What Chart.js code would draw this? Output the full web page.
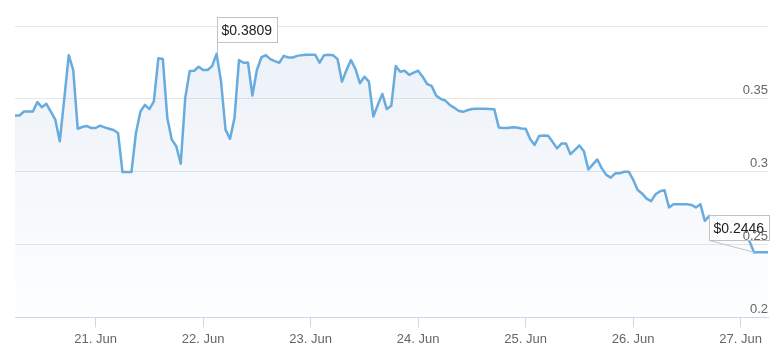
<!DOCTYPE html>
<html>
<head>
<meta charset="utf-8">
<script src="https://cdn.jsdelivr.net/npm/chart.js@4.4.1/dist/chart.umd.min.js"></script>
<style>
	html, body { margin: 0; padding: 0; background: #fff; }
	#wrap { width: 783px; height: 359px; position: relative; }
</style>
</head>
<body>
<div id="wrap"><canvas id="priceChart"></canvas></div>
<script>
// hourly prices, 20 Jun 06:00 -> 27 Jun 06:00
const prices = [
	0.3386, 0.3386, 0.3413, 0.3413, 0.3413, 0.3478, 0.3443, 0.3466, 0.3413, 0.3357,
	0.3209, 0.3500, 0.3800, 0.3698, 0.3295, 0.3307, 0.3314, 0.3300, 0.3300, 0.3316,
	0.3304, 0.3295, 0.3286, 0.3266, 0.2998, 0.2998, 0.2998, 0.3266, 0.3413, 0.3459,
	0.3430, 0.3482, 0.3778, 0.3773, 0.3368, 0.3220, 0.3175, 0.3055, 0.3505, 0.3691,
	0.3693, 0.3720, 0.3698, 0.3698, 0.3725, 0.3809, 0.3618, 0.3289, 0.3225, 0.3368,
	0.3766, 0.3748, 0.3750, 0.3523, 0.3698, 0.3784, 0.3800, 0.3773, 0.3759, 0.3748,
	0.3795, 0.3784, 0.3784, 0.3795, 0.3800, 0.3803, 0.3803, 0.3803, 0.3748, 0.3800,
	0.3803, 0.3800, 0.3773, 0.3618, 0.3698, 0.3766, 0.3705, 0.3607, 0.3652, 0.3618,
	0.3379, 0.3459, 0.3534, 0.3430, 0.3452, 0.3725, 0.3686, 0.3693, 0.3664, 0.3680,
	0.3693, 0.3652, 0.3602, 0.3589, 0.3523, 0.3500, 0.3489, 0.3460, 0.3440, 0.3418,
	0.3411, 0.3422, 0.3430, 0.3432, 0.3432, 0.3432, 0.3431, 0.3428, 0.3304, 0.3300,
	0.3300, 0.3305, 0.3303, 0.3296, 0.3295, 0.3225, 0.3184, 0.3245, 0.3248, 0.3247,
	0.3205, 0.3160, 0.3193, 0.3193, 0.3120, 0.3150, 0.3180, 0.3140, 0.3015, 0.3050,
	0.3084, 0.3023, 0.2978, 0.2959, 0.2989, 0.2989, 0.3000, 0.3000, 0.2945, 0.2875,
	0.2850, 0.2815, 0.2798, 0.2845, 0.2866, 0.2873, 0.2755, 0.2777, 0.2777, 0.2777,
	0.2777, 0.2772, 0.2755, 0.2777, 0.2663, 0.2697, 0.2690, 0.2680, 0.2670, 0.2665,
	0.2660, 0.2650, 0.2620, 0.2570, 0.2520, 0.2446, 0.2448, 0.2447, 0.2448
];
// hours counted from 20 Jun 00:00
const firstHour = 6;
const hours = prices.map((p, i) => firstHour + i);

const dayTicks = [24, 48, 72, 96, 120, 144, 168];
const dayLabels = ['21. Jun', '22. Jun', '23. Jun', '24. Jun', '25. Jun', '26. Jun', '27. Jun'];
const yTicks = [0.2, 0.25, 0.3, 0.35, 0.4];
const yLabels = ['0.2', '0.25', '0.3', '0.35', ''];

const fontFamily = "'Liberation Sans', Arial, sans-serif";
Chart.defaults.font.family = fontFamily;

// hàm tạo gradient cho vùng dưới đường
function areaGradient(context) {
	const chart = context.chart;
	const area = chart.chartArea;
	if (!area) return 'rgba(110,150,200,0.1)';
	const g = chart.ctx.createLinearGradient(0, area.top, 0, area.bottom);
	g.addColorStop(0, 'rgba(120,160,210,0.15)');
	g.addColorStop(1, 'rgba(120,160,210,0.01)');
	return g;
}

// nhãn max / min kiểu callout
const calloutPlugin = {
	id: 'callouts',
	afterDatasetsDraw(chart) {
		const ctx = chart.ctx;
		const xs = chart.scales.x, ys = chart.scales.y;
		let iMax = 0, iMin = 0;
		prices.forEach((p, i) => {
			if (p > prices[iMax]) iMax = i;
			if (p < prices[iMin]) iMin = i;
		});
		ctx.save();
		ctx.font = '14px ' + fontFamily;
		[iMax, iMin].forEach(i => {
			const px = Math.round(xs.getPixelForValue(hours[i])) + 0.5;
			const py = ys.getPixelForValue(prices[i]);
			const text = '$' + prices[i].toFixed(4);
			const w = Math.round(ctx.measureText(text).width) + 9;
			const h = 25;
			const left = Math.min(px, Math.round(chart.chartArea.right) + 1.5 - w);
			const bottom = Math.round(py - 12) + 0.5;
			const top = bottom - h;
			ctx.fillStyle = 'rgba(255,255,255,0.92)';
			ctx.fillRect(left, top, w, h);
			ctx.strokeStyle = '#c2c2c2';
			ctx.lineWidth = 1;
			ctx.strokeRect(left, top, w, h);
			ctx.beginPath();
			ctx.moveTo(left, bottom);
			ctx.lineTo(px, py);
			ctx.stroke();
			ctx.fillStyle = '#222';
			ctx.textBaseline = 'middle';
			ctx.fillText(text, left + 4, top + h / 2 + 1);
		});
		ctx.restore();
	}
};

const chart = new Chart(document.getElementById('priceChart'), {
	type: 'line',
	data: {
		datasets: [{
			data: hours.map((h, i) => ({ x: h, y: prices[i] })),
			borderColor: '#68abdf',
			borderWidth: 2.5,
			backgroundColor: areaGradient,
			fill: 'start',
			pointRadius: 0,
			tension: 0,
			borderJoinStyle: 'round',
			borderCapStyle: 'round'
		}]
	},
	options: {
		responsive: true,
		maintainAspectRatio: false,
		animation: false,
		layout: { padding: { left: 15, right: 15, top: 26, bottom: 8 } },
		plugins: {
			legend: { display: false },
			tooltip: { enabled: false }
		},
		scales: {
			x: {
				type: 'linear',
				min: firstHour,
				max: 174.1,
				afterBuildTicks: scale => { scale.ticks = dayTicks.map(v => ({ value: v })); },
				grid: {
					drawOnChartArea: false,
					drawTicks: true,
					tickLength: 10,
					color: '#ccd6eb'
				},
				border: { color: '#ccd6eb', width: 1 },
				ticks: {
					color: '#666',
					font: { size: 13 },
					padding: 4,
					maxRotation: 0,
					autoSkip: false,
					callback: (value) => dayLabels[dayTicks.indexOf(value)]
				}
			},
			y: {
				position: 'right',
				min: 0.2,
				max: 0.4,
				afterBuildTicks: scale => { scale.ticks = yTicks.map(v => ({ value: v })); },
				grid: { color: '#e6e6e6', drawTicks: false },
				border: { display: false },
				ticks: {
					mirror: true,
					padding: 0,
					labelOffset: -8,
					z: 1,
					color: '#666',
					font: { size: 13 },
					callback: (value) => yLabels[yTicks.indexOf(value)]
				}
			}
		}
	},
	plugins: [calloutPlugin]
});
</script>
</body>
</html>
